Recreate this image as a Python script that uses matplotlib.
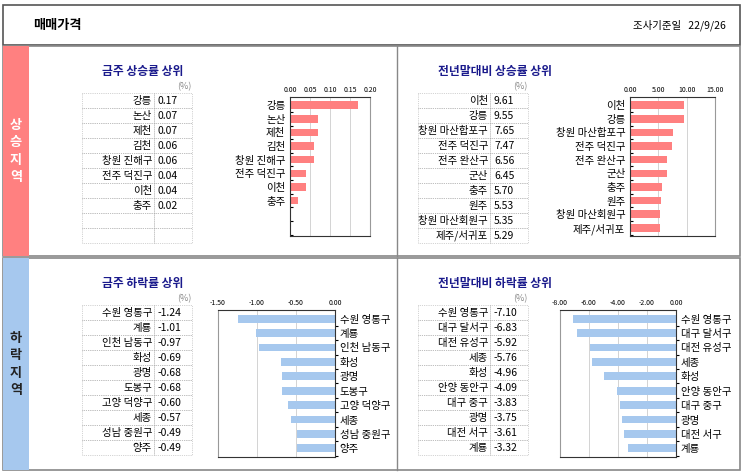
import matplotlib
matplotlib.use('Agg')
from matplotlib import pyplot as plt
from matplotlib.patches import Rectangle

plt.rcParams['font.family'] = ['Noto Sans CJK KR', 'DejaVu Sans']

W, H = 743, 473

# data
up_week_names = ['강릉', '논산', '제천', '김천', '창원 진해구', '전주 덕진구', '이천', '충주']
up_week_vals = [0.17, 0.07, 0.07, 0.06, 0.06, 0.04, 0.04, 0.02]
up_year_names = ['이천', '강릉', '창원 마산합포구', '전주 덕진구', '전주 완산구', '군산', '충주', '원주',
                 '창원 마산회원구', '제주/서귀포']
up_year_vals = [9.61, 9.55, 7.65, 7.47, 6.56, 6.45, 5.70, 5.53, 5.35, 5.29]
down_week_names = ['수원 영통구', '계룡', '인천 남동구', '화성', '광명', '도봉구', '고양 덕양구', '세종',
                   '성남 중원구', '양주']
down_week_vals = [-1.24, -1.01, -0.97, -0.69, -0.68, -0.68, -0.60, -0.57, -0.49, -0.49]
down_year_names = ['수원 영통구', '대구 달서구', '대전 유성구', '세종', '화성', '안양 동안구', '대구 중구',
                   '광명', '대전 서구', '계룡']
down_year_vals = [-7.10, -6.83, -5.92, -5.76, -4.96, -4.09, -3.83, -3.75, -3.61, -3.32]

RED = '#ff8080'
BLUE = '#a6c8ee'

fig = plt.figure(figsize=(W / 100, H / 100), dpi=100)
bg = fig.add_axes([0, 0, 1, 1])
bg.set_xlim(0, W)
bg.set_ylim(H, 0)
bg.axis('off')


def rect(x, y, w, h, **kw):
    bg.add_patch(Rectangle((x, y), w, h, **kw))


# frames
rect(3, 5, 737, 40, fill=False, ec='#555555', lw=1.2)
bg.text(33, 25, '매매가격', fontsize=9.5, fontweight='bold', va='center')
bg.text(633, 25, '조사기준일   22/9/26', fontsize=7.5, va='center')
rect(3, 46, 737, 210, fill=False, ec='#888888', lw=1.2)
rect(3, 258, 737, 212, fill=False, ec='#888888', lw=1.2)
rect(3, 46, 26, 210, fc=RED, ec='none')
rect(3, 258, 26, 212, fc=BLUE, ec='none')
bg.text(16, 151, '상\n승\n지\n역', color='white', fontsize=9.5, fontweight='bold',
        ha='center', va='center', linespacing=1.3)
bg.text(16, 364, '하\n락\n지\n역', color='#222222', fontsize=9.5, fontweight='bold',
        ha='center', va='center', linespacing=1.3)
bg.plot([397, 397], [46, 256], color='#888888', lw=1)
bg.plot([397, 397], [258, 470], color='#888888', lw=1)


def panel(x0, y0, title, names, vals, ax_rect, xlim, xticks, color, right_labels):
    bg.text(x0 + 20, y0 + 25, title, color='#1a1a8c', fontsize=8.5, fontweight='bold', va='center')
    bg.text(x0 + 110, y0 + 41, '(%)', color='#888888', fontsize=6.5, ha='right', va='center')
    rows = 10
    rh = 15
    ty = y0 + 47
    tw1, tw2 = 72, 38
    for i in range(rows):
        y = ty + i * rh
        rect(x0, y, tw1, rh, fill=False, ec='#aaaaaa', lw=0.5, ls=':')
        rect(x0 + tw1, y, tw2, rh, fill=False, ec='#aaaaaa', lw=0.5, ls=':')
        if i < len(names):
            bg.text(x0 + tw1 - 2, y + rh / 2, names[i], fontsize=7.5, ha='right', va='center')
            bg.text(x0 + tw1 + 4, y + rh / 2, f'{vals[i]:.2f}', fontsize=7.5, ha='left', va='center')
    ax = fig.add_axes([ax_rect[0] / W, 1 - (ax_rect[1] + ax_rect[3]) / H, ax_rect[2] / W, ax_rect[3] / H])
    pos = list(range(len(names)))
    ax.barh(pos, vals, height=0.55, color=color)
    ax.set_ylim(9.6, -0.6)
    ax.set_xlim(*xlim)
    ax.set_xticks(xticks)
    ax.set_xticklabels([f'{t:.2f}' for t in xticks], fontsize=5)
    ax.xaxis.tick_top()
    ax.tick_params(axis='x', length=0, pad=2)
    ax.grid(axis='x', color='#cccccc', lw=0.6)
    ax.set_axisbelow(True)
    ax.set_yticks([p + 0.5 for p in range(10)], minor=False)
    ax.set_yticklabels([])
    ax.set_yticks(pos, minor=True)
    ax.set_yticklabels(names, minor=True, fontsize=7.5)
    ax.tick_params(axis='y', which='minor', length=0)
    ax.tick_params(axis='y', which='major', length=2, direction='in' if not right_labels else 'out')
    for s in ax.spines.values():
        s.set_color('#333333')
        s.set_linewidth(0.8)
    if right_labels:
        ax.yaxis.tick_right()
        ax.spines['left'].set_color('#999999')
    else:
        ax.spines['right'].set_color('#999999')
    return ax


panel(82, 46, '금주 상승률 상위', up_week_names, up_week_vals,
      (290, 97, 80, 139), (0, 0.20), [0, 0.05, 0.10, 0.15, 0.20], RED, False)
panel(418, 46, '전년말대비 상승률 상위', up_year_names, up_year_vals,
      (630, 97, 85, 139), (0, 15), [0, 5, 10, 15], RED, False)
panel(82, 258, '금주 하락률 상위', down_week_names, down_week_vals,
      (218, 310, 117, 147), (-1.5, 0), [-1.5, -1.0, -0.5, 0.0], BLUE, True)
panel(418, 258, '전년말대비 하락률 상위', down_year_names, down_year_vals,
      (560, 310, 116, 147), (-8, 0), [-8, -6, -4, -2, 0], BLUE, True)

fig.savefig('out.png', dpi=100)
